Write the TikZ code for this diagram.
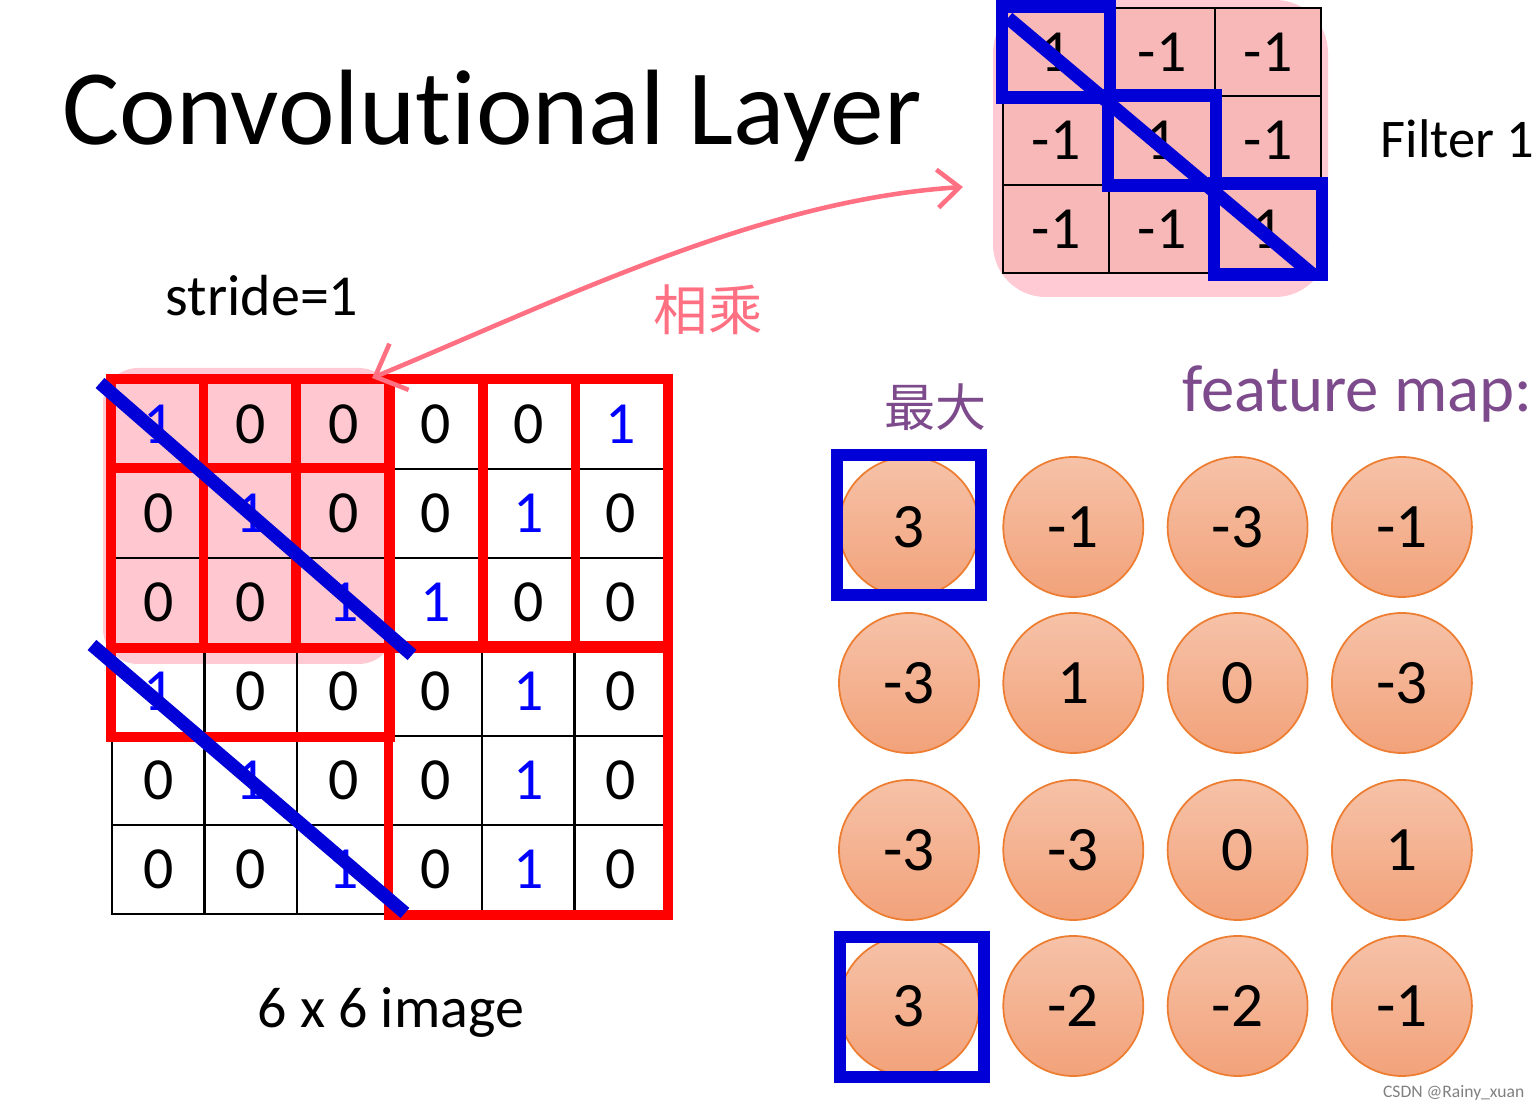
\documentclass[tikz,border=0pt]{standalone}
\usepackage{fontspec}
\setmainfont{Carlito}[Ligatures=NoCommon]
\newfontfamily\cjk{Noto Sans CJK SC}
\usetikzlibrary{arrows.meta,positioning,calc}
\definecolor{imgblue}{RGB}{0,0,255}
\definecolor{penblue}{RGB}{0,0,215}
\definecolor{winred}{RGB}{255,0,0}
\definecolor{cellpink}{RGB}{255,200,208}
\definecolor{fltpink}{RGB}{248,184,184}
\definecolor{glowpink}{RGB}{255,202,212}
\definecolor{inkpink}{RGB}{255,112,130}
\definecolor{inkpurple}{RGB}{125,75,140}
\definecolor{fmtop}{RGB}{246,194,168}
\definecolor{fmbot}{RGB}{242,162,122}
\definecolor{fmedge}{RGB}{237,125,49}

\begin{document}
\begin{tikzpicture}[x=0.1mm,y=-0.1mm,
    pix/.style={draw,line width=0.6pt,minimum width=9.25mm,minimum height=8.9mm,inner sep=0pt,font=\fontsize{17}{17}\selectfont},
    d0/.style={text=black},
    d1/.style={text=imgblue},
    tap/.style={draw,line width=0.6pt,fill=fltpink,minimum width=10.6mm,minimum height=8.85mm,inner sep=0pt,font=\fontsize{17}{17}\selectfont},
    fmap/.style={circle,draw=fmedge,line width=0.5pt,top color=fmtop,bottom color=fmbot,minimum size=14mm,inner sep=0pt,font=\fontsize{18}{18}\selectfont},
    win/.style={draw=winred,line width=2.8pt},
    pen/.style={draw=penblue,line width=3.6pt},
    ink/.style={inkpink,line width=1.3pt,line cap=round},
    label/.style={anchor=base west,inner sep=0pt}]
    \useasboundingbox (0,0) rectangle (1539,1111);

    % title and labels
    \node[label,font=\fontsize{30.5}{30.5}\selectfont] (title) at (62,145) {Convolutional Layer};
    \node[label,font=\fontsize{16.5}{16.5}\selectfont] (stride) at (165,316) {stride=1};
    \node[label,font=\fontsize{16.5}{16.5}\selectfont] (imglabel) at (257,1028) {6 x 6 image};
    \node[label,font=\fontsize{15.5}{15.5}\selectfont] (fltlabel) at (1380,158) {Filter 1};

    % 6x6 image
    \fill[glowpink,rounded corners=10] (103,368) rectangle (394,664);
    \fill[cellpink] (112,380) rectangle (392,647);
    \foreach \vals [count=\r from 0] in {{1,0,0,0,0,1},{0,1,0,0,1,0},{0,0,1,1,0,0},{1,0,0,0,1,0},{0,1,0,0,1,0},{0,0,1,0,1,0}}
        \foreach \v [count=\c from 0] in \vals
            \node[pix,d\v] (img-\r-\c) at ({158.25+92.5*\c},{424.5+89*\r}) {\v};

    % stride windows
    \draw[win] (img-0-0.north west) rectangle (img-2-2.south east);
    \draw[win] (img-1-0.north west) rectangle (img-3-2.south east);
    \draw[win] (img-0-1.north west) rectangle (img-2-3.south east);
    \draw[win] (img-0-2.north west) rectangle (img-2-4.south east);
    \draw[win] (img-0-3.north west) rectangle (img-2-5.south east);
    \draw[win] (img-3-3.north west) rectangle (img-5-5.south east);
    \draw[penblue,line width=3.8pt] (100,383) -- (412,655);
    \draw[penblue,line width=3.8pt] (92,645) -- (405,913);

    % filter
    \fill[glowpink,rounded corners=15] (993,0) rectangle (1328,297);
    \foreach \vals [count=\r from 0] in {{1,-1,-1},{-1,1,-1},{-1,-1,1}}
        \foreach \v [count=\c from 0] in \vals
            \node[tap] (flt-\r-\c) at ({1056+106*\c},{52+88.5*\r}) {\v};
    \draw[pen] (flt-0-0.north west) rectangle (flt-0-0.south east);
    \draw[pen] (flt-1-1.north west) rectangle (flt-1-1.south east);
    \draw[pen] (flt-2-2.north west) rectangle (flt-2-2.south east);
    \draw[penblue,line width=3.8pt] (1008,18) -- (1312,274);

    % feature map
    \foreach \vals/\yy [count=\r from 0] in {{3,-1,-3,-1}/527,{-3,1,0,-3}/683,{-3,-3,0,1}/850,{3,-2,-2,-1}/1006}
        \foreach \v [count=\c from 0] in \vals
            \node[fmap] (fm-\r-\c) at ({909+164.3*\c},\yy) {\v};
    \draw[pen] ($(fm-0-0)+(-72,-72)$) rectangle ($(fm-0-0)+(72,68)$);
    \draw[pen] ($(fm-3-0)+(-69,-69)$) rectangle ($(fm-3-0)+(75,71)$);

    % handwriting
    \coordinate (arrA) at (372,378);
    \coordinate (arrB) at (963,187);
    \draw[ink,{Straight Barb[length=2.6mm,width=5mm]}-{Straight Barb[length=2.2mm,width=3.8mm]}] (arrA) .. controls (560,300) and (760,200) .. (arrB);
    \node[inkpink,font=\cjk\fontsize{15.5}{15.5}\selectfont,inner sep=0pt] (mult) at (708,310) {相乘};
    \node[inkpurple,font=\cjk\fontsize{14.5}{14.5}\selectfont,inner sep=0pt] (maxlabel) at (935,407) {最大};
    \node[label,inkpurple,font=\fontsize{19}{19}\selectfont] (fmlabel) at (1182,412) {feature map:};

    % watermark
    \node[gray,font=\fontsize{5}{5}\selectfont,anchor=base east,inner sep=0pt] (mark) at (1525,1098) {CSDN @Rainy\_xuan};
\end{tikzpicture}
\end{document}
